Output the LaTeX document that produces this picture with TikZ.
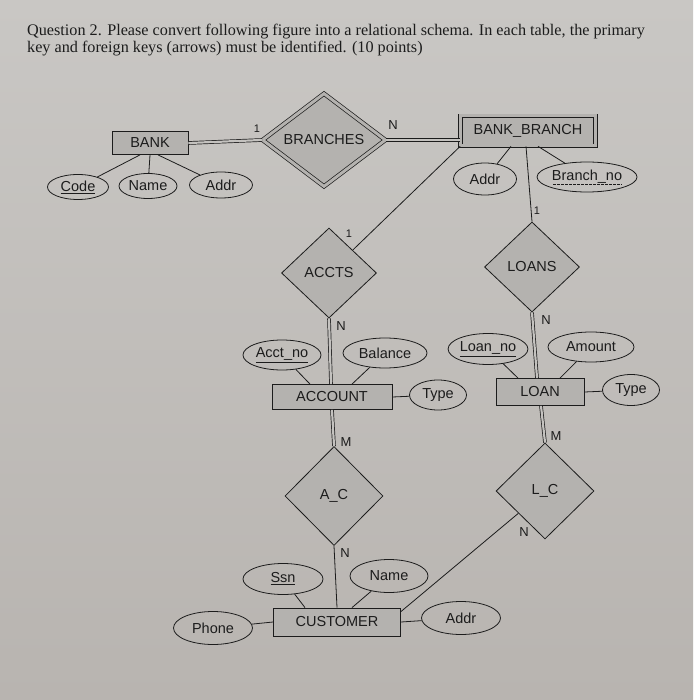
\documentclass[tikz,border=0pt]{standalone}
\usepackage{fontspec}
\setmainfont{Liberation Serif}
\newfontfamily\diagfont{Liberation Sans}
\usetikzlibrary{shapes.geometric}
\definecolor{bgtop}{RGB}{201,199,196}
\definecolor{bgbot}{RGB}{184,180,176}
\definecolor{bgc}{RGB}{196,194,191}
\definecolor{shapefill}{RGB}{180,178,175}
\definecolor{inkc}{RGB}{28,28,28}
\tikzset{
  lbl/.style={font=\diagfont\fontsize{14.5}{16}\selectfont, text=inkc},
  ent/.style={lbl, rectangle, draw=inkc, fill=shapefill, line width=0.8pt, inner sep=0pt},
  attr/.style={lbl, ellipse, draw=inkc, line width=0.8pt, inner sep=0pt},
  rel/.style={lbl, diamond, draw=inkc, fill=shapefill, line width=0.8pt, inner sep=0pt},
  dblbord/.style={double=shapefill, double distance=3pt, line width=0.7pt},
  conn/.style={draw=inkc, line width=0.8pt},
  dbl/.style={draw=inkc, double=bgc, double distance=2.2pt, line width=0.7pt},
  partial/.style={draw=inkc, line width=0.8pt, dash pattern=on 2.5pt off 1.5pt},
  card/.style={font=\diagfont\fontsize{13}{14}\selectfont, text=inkc, inner sep=0pt},
  cardone/.style={font=\diagfont\fontsize{11}{12}\selectfont, text=inkc, inner sep=0pt},
  ttl/.style={font=\fontsize{16.2}{17}\selectfont, text=inkc, inner sep=0pt, anchor=base west},
}
\begin{document}
\begin{tikzpicture}[x=1pt,y=-1pt]
\shade[top color=bgtop, bottom color=bgbot] (0,0) rectangle (693,700);
\useasboundingbox (0,0) rectangle (693,700);

% title
\node[ttl] (t1) at (27,35.5) {Question 2. Please convert following figure into a relational schema. In each table, the primary};
\node[ttl] (t2) at (27,52.5) {key and foreign keys (arrows) must be identified. (10 points)};

% BANK
\node[ent, minimum width=76pt, minimum height=23pt] (bank) at (150,143) {BANK};
\node[attr, minimum width=61pt, minimum height=25pt] (code) at (78,187) {\underline{Code}};
\node[attr, minimum width=58pt, minimum height=25pt] (bname) at (148,186) {Name};
\node[attr, minimum width=63pt, minimum height=26pt] (baddr) at (221,185) {Addr};

% BRANCHES
\node[rel, dblbord, minimum width=123pt, minimum height=93pt] (branches) at (324,140) {BRANCHES};

% BANK_BRANCH
\node[ent, dblbord, minimum width=135pt, minimum height=30pt] (bb) at (528,131) {BANK\_BRANCH};
\node[attr, minimum width=63pt, minimum height=32pt] (bbaddr) at (485,179) {Addr};
\node[attr, minimum width=100pt, minimum height=30pt] (bno) at (587,177) {Branch\_no};
\draw[partial] ([xshift=-34pt,yshift=-7pt]bno.center) -- ([xshift=35pt,yshift=-7pt]bno.center);

% LOANS, ACCTS
\node[rel, minimum width=95pt, minimum height=90pt] (loans) at (532,267) {LOANS};
\node[rel, minimum width=95pt, minimum height=90pt] (accts) at (329,273) {ACCTS};

% ACCOUNT
\node[attr, minimum width=78pt, minimum height=30pt] (acctno) at (282,355) {\underline{Acct\_no}};
\node[attr, minimum width=84pt, minimum height=30pt] (bal) at (385,353) {Balance};
\node[ent, minimum width=120pt, minimum height=25pt] (acct) at (332,397) {ACCOUNT};
\node[attr, minimum width=57pt, minimum height=30pt] (atype) at (438,395) {Type};

% LOAN
\node[attr, minimum width=76pt, minimum height=31pt] (loanno) at (488,349) {\underline{Loan\_no}};
\node[attr, minimum width=86pt, minimum height=30pt] (amt) at (591,347) {Amount};
\node[ent, minimum width=88pt, minimum height=27pt] (loan) at (540,392) {LOAN};
\node[attr, minimum width=57pt, minimum height=31pt] (ltype) at (631,390) {Type};

% L_C, A_C
\node[rel, minimum width=98pt, minimum height=96pt] (lc) at (545,491) {L\_C};
\node[rel, minimum width=98pt, minimum height=99pt] (ac) at (334,496) {A\_C};

% CUSTOMER
\node[attr, minimum width=80pt, minimum height=31pt] (ssn) at (283,579) {\underline{Ssn}};
\node[attr, minimum width=78pt, minimum height=33pt] (cname) at (389,576) {Name};
\node[ent, minimum width=127pt, minimum height=28pt] (cust) at (337,622) {CUSTOMER};
\node[attr, minimum width=79pt, minimum height=33pt] (phone) at (213,628) {Phone};
\node[attr, minimum width=79pt, minimum height=33pt] (caddr) at (461,618) {Addr};

% connectors
\draw[conn] ([xshift=-10pt]bank.south) -- (code);
\draw[conn] (bank.south) -- (bname);
\draw[conn] ([xshift=8pt]bank.south) -- (baddr);
\draw[dbl] (bank.east) -- (branches.west);
\draw[dbl] (branches.east) -- (bb.west |- branches.east);

\draw[conn] ([xshift=-17pt]bb.south) -- (bbaddr);
\draw[conn] ([xshift=10pt]bb.south) -- (bno);
\draw[conn] ([xshift=-2pt]bb.south) -- (loans.north);
\draw[conn] (bb.south west) -- (accts);

\draw[dbl] (accts.south) -- ([xshift=-1pt]acct.north);
\draw[conn] ([xshift=-22pt]acct.north) -- (acctno);
\draw[conn] ([xshift=20pt]acct.north) -- (bal);
\draw[conn] (acct.east) -- (atype);
\draw[dbl] (acct.south) -- (ac.north);
\draw[conn] (ac.south) -- (cust.north);

\draw[dbl] (loans.south) -- ([xshift=-3pt]loan.north);
\draw[conn] ([xshift=-22pt]loan.north) -- (loanno);
\draw[conn] ([xshift=20pt]loan.north) -- (amt);
\draw[conn] (loan.east) -- (ltype);
\draw[dbl] ([xshift=1pt]loan.south) -- (lc.north);
\draw[conn] (lc) -- ([yshift=-4pt]cust.north east);

\draw[conn] ([xshift=-32pt]cust.north) -- (ssn);
\draw[conn] ([xshift=15pt]cust.north) -- (cname);
\draw[conn] (cust.west) -- (phone);
\draw[conn] (cust.east) -- (caddr);

% cardinalities
\node[cardone] (c1) at (257,129) {1};
\node[card] (c2) at (393,125) {N};
\node[cardone] (c3) at (537,211) {1};
\node[cardone] (c4) at (349,234) {1};
\node[card] (c5) at (341,326) {N};
\node[card] (c6) at (546,320) {N};
\node[card] (c7) at (346,442) {M};
\node[card] (c8) at (556,436) {M};
\node[card] (c9) at (345,553) {N};
\node[card] (c10) at (524,532) {N};
\end{tikzpicture}
\end{document}
